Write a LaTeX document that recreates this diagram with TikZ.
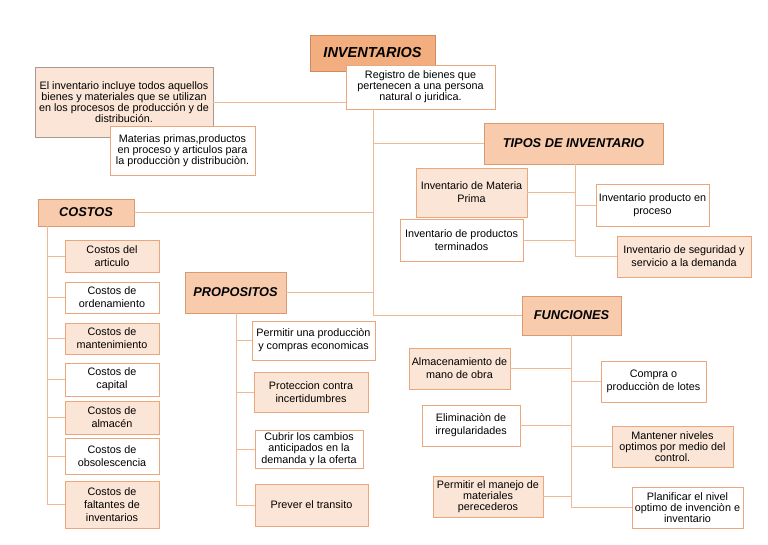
\documentclass[tikz,border=0pt]{standalone}
\usepackage{fontspec}
\setmainfont{Liberation Sans}
\begin{document}
\begin{tikzpicture}[x=1pt,y=-1pt,
  base/.style={rectangle,inner sep=0.5pt,outer sep=0pt,align=center,line width=0.8pt,
    font=\fontsize{10.8}{13}\selectfont},
  tight/.style={font=\fontsize{10.8}{11.2}\selectfont},
  dark/.style={base,fill=darkfill,draw=darkline,font=\fontsize{14.5}{16}\selectfont\bfseries\itshape},
  title/.style={base,fill=midfill,draw=midline,font=\fontsize{12.8}{14}\selectfont\bfseries\itshape},
  lite/.style={base,fill=litefill,draw=liteline},
  plain/.style={base,fill=white,draw=liteline},
  greybox/.style={base,fill=litefill,draw=greyline},
  ln/.style={draw=linecol,line width=0.9pt}]
\definecolor{darkfill}{HTML}{F3AE80}
\definecolor{darkline}{HTML}{CF8A60}
\definecolor{midfill}{HTML}{F8CBAD}
\definecolor{midline}{HTML}{D99A72}
\definecolor{litefill}{HTML}{FBE5D6}
\definecolor{liteline}{HTML}{EBA67C}
\definecolor{greyline}{HTML}{A89A90}
\definecolor{linecol}{HTML}{F0B996}
\newcommand\mybox[7]{\node[#2,minimum width={(#5-#3)*1pt},minimum height={(#6-#4)*1pt}] (#1) at ({(#3+#5)/2},{(#4+#6)/2}) {#7};}
\useasboundingbox[fill=white] (0,0) rectangle (768,544);
% coordinates of trunks
\coordinate (t1) at (373,315.5);
\coordinate (tx) at (575,0);
\coordinate (cx) at (47,0);
\coordinate (px) at (236,0);
\coordinate (fx) at (571,0);
% main
\mybox{inv}{dark}{310}{35}{435}{71}{INVENTARIOS}
\mybox{incl}{greybox,tight}{35}{67}{213}{137}{El inventario incluye todos aquellos\\bienes y materiales que se utilizan\\en los procesos de producción y de\\distribución.}
% titles
\mybox{tip}{title}{484}{123}{663}{164}{TIPOS DE INVENTARIO}
\mybox{cos}{title}{38}{199}{134}{226}{COSTOS}
\mybox{pro}{title}{185}{272}{286}{313}{PROPOSITOS}
\mybox{fun}{title}{522}{296}{621}{335}{FUNCIONES}
% tipos children
\mybox{ti1}{lite}{416}{168}{527}{217}{Inventario de Materia\\Prima}
\mybox{ti2}{plain}{596}{184}{709}{226}{Inventario producto en\\proceso}
\mybox{ti3}{plain}{400}{219}{523}{261}{Inventario de productos\\terminados}
\mybox{ti4}{lite}{617}{236}{751}{277}{Inventario de seguridad y\\servicio a la demanda}
% costos children
\mybox{c1}{lite}{65}{240}{159}{272}{Costos del\\articulo}
\mybox{c2}{plain}{65}{282}{159}{313}{Costos de\\ordenamiento}
\mybox{c3}{lite}{65}{323}{159}{354}{Costos de\\mantenimiento}
\mybox{c4}{plain}{65}{363}{159}{396}{Costos de\\capital}
\mybox{c5}{lite}{65}{401}{159}{434}{Costos de\\almacén}
\mybox{c6}{plain}{65}{438}{159}{474}{Costos de\\obsolescencia}
\mybox{c7}{lite}{65}{481}{159}{528}{Costos de\\faltantes de\\inventarios}
% propositos children
\mybox{p1}{plain}{252}{321}{375}{360}{Permitir una producciòn\\y compras economicas}
\mybox{p2}{lite}{254}{372}{368}{412}{Proteccion contra\\incertidumbres}
\mybox{p3}{plain,tight}{255}{430}{363}{468}{Cubrir los cambios\\anticipados en la\\demanda y la oferta}
\mybox{p4}{lite}{255}{484}{368}{526}{Prever el transito}
% funciones children
\mybox{f1}{lite}{409}{348}{510}{389}{Almacenamiento de\\mano de obra}
\mybox{f2}{plain}{601}{361}{706}{402}{Compra o\\producciòn de lotes}
\mybox{f3}{plain}{422}{405}{520}{446}{Eliminaciòn de\\irregularidades}
\mybox{f4}{lite,tight}{612}{426}{733}{467}{Mantener niveles\\optimos por medio del\\control.}
\mybox{f5}{lite,tight}{433}{476}{543}{517}{Permitir el manejo de\\materiales\\perecederos}
\mybox{f6}{plain,tight}{632}{487}{743}{528}{Planificar el nivel\\optimo de invenciòn e\\inventario}
% connectors
\mybox{reg}{plain,tight}{346}{65}{495}{109}{Registro de bienes que\\pertenecen a una persona\\natural o juridica.}
\path[ln] (incl.east) -- (incl.east -| reg.west);
\path[ln] (reg.south -| t1) -- (t1) -- (fun.west);
\path[ln] (cos.east) -- (cos.east -| t1);
\path[ln] (pro.east) -- (pro.east -| t1);
\path[ln] (tip.west) -- (tip.west -| t1);
% tipos tree
\path[ln] (tip.south -| tx) -- (ti4.west -| tx);
\path[ln] (ti1.east) -- (ti1.east -| tx);
\path[ln] (ti2.west) -- (ti2.west -| tx);
\path[ln] (ti3.east) -- (ti3.east -| tx);
\path[ln] (ti4.west) -- (ti4.west -| tx);
% costos tree
\path[ln] (cos.south -| cx) |- (c7.west);
\foreach \n in {c1,c2,c3,c4,c5,c6} {\path[ln] (\n.west) -- (\n.west -| cx);}
% propositos tree
\path[ln] (pro.south -| px) |- (p4.west);
\foreach \n in {p1,p2,p3} {\path[ln] (\n.west) -- (\n.west -| px);}
% funciones tree
\path[ln] (fun.south -| fx) |- (f6.west);
\foreach \n in {f1,f3,f5} {\path[ln] (\n.east) -- (\n.east -| fx);}
\foreach \n in {f2,f4} {\path[ln] (\n.west) -- (\n.west -| fx);}
% box overlapping the first one, drawn last
\mybox{mat}{plain,tight}{110}{126}{255}{175}{Materias primas,productos\\en proceso y articulos para\\la producciòn y distribuciòn.}
\end{tikzpicture}
\end{document}
